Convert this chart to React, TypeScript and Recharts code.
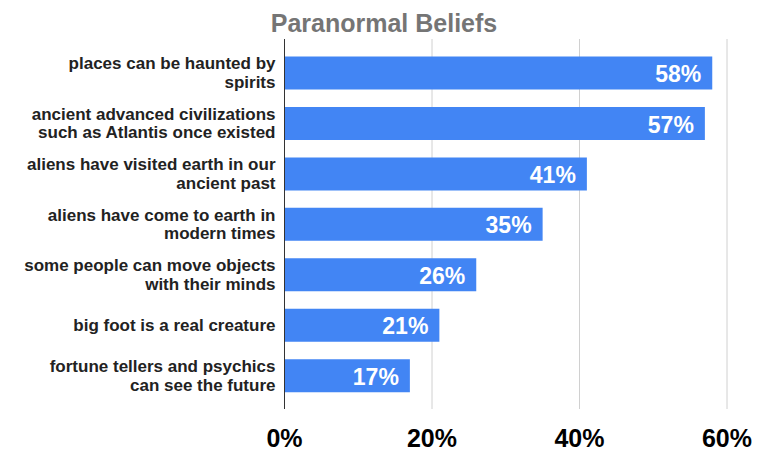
import React from "react";
import { BarChart, Bar, XAxis, YAxis, CartesianGrid, LabelList } from "recharts";

const categories = [
  "places can be haunted by\nspirits",
  "ancient advanced civilizations\nsuch as Atlantis once existed",
  "aliens have visited earth in our\nancient past",
  "aliens have come to earth in\nmodern times",
  "some people can move objects\nwith their minds",
  "big foot is a real creature",
  "fortune tellers and psychics\ncan see the future",
];
const values = [0.58, 0.57, 0.41, 0.35, 0.26, 0.21, 0.17];
const xTicks = [0, 0.2, 0.4, 0.6];
const title = "Paranormal Beliefs";

const data = categories.map((c, i) => ({ name: c, value: values[i] }));

const FONT = "'Liberation Sans', Arial, sans-serif";

const YTick = (props: any) => {
  const { x, y, payload } = props;
  const lines = String(payload.value).split("\n");
  const lh = 18.5;
  const start = -((lines.length - 1) * lh) / 2;
  return (
    <text x={x - 9} y={y} textAnchor="end" fontFamily={FONT} fontWeight="bold" fontSize={17} fill="#222">
      {lines.map((l, i) => (
        <tspan key={i} x={x - 9} y={y + start + i * lh} dominantBaseline="central">
          {l}
        </tspan>
      ))}
    </text>
  );
};

const XTick = (props: any) => {
  const { x, y, payload } = props;
  return (
    <text x={x} y={y + 29} textAnchor="middle" dominantBaseline="central" fontFamily={FONT} fontWeight="bold" fontSize={25} fill="#000">
      {Math.round(payload.value * 100) + "%"}
    </text>
  );
};

const ValueLabel = (props: any) => {
  const { x, y, width, height, value } = props;
  return (
    <text x={x + width - 11} y={y + height / 2 + 1} textAnchor="end" dominantBaseline="central" fontFamily={FONT} fontWeight="bold" fontSize={23} fill="#fff">
      {Math.round(value * 100) + "%"}
    </text>
  );
};

export default function App() {
  return (
    <div style={{ position: "absolute", left: 0, top: 0, width: 768, height: 461, background: "#fff" }}>
      <div
        style={{
          position: "absolute",
          left: 0,
          width: 768,
          top: 8,
          textAlign: "center",
          fontFamily: FONT,
          fontWeight: "bold",
          fontSize: 25,
          lineHeight: "30px",
          color: "#757575",
        }}
      >
        {title}
      </div>
      <BarChart
        width={768}
        height={461}
        data={data}
        layout="vertical"
        margin={{ top: 39, right: 41, bottom: 0, left: 0 }}
        barCategoryGap="17%"
      >
        <CartesianGrid horizontal={false} vertical={true} stroke="#d0d0d0" />
        <XAxis
          type="number"
          domain={[0, 0.6]}
          ticks={xTicks}
          axisLine={false}
          tickLine={false}
          tickSize={0}
          tickMargin={0}
          height={52}
          tick={<XTick />}
          interval={0}
        />
        <YAxis
          type="category"
          dataKey="name"
          width={284.5}
          axisLine={{ stroke: "#333" }}
          tickLine={false}
          tickSize={0}
          tickMargin={0}
          tick={<YTick />}
          interval={0}
          padding={{ top: 9, bottom: 8 }}
        />
        <Bar dataKey="value" fill="#4285F4" isAnimationActive={false}>
          <LabelList dataKey="value" content={<ValueLabel />} />
        </Bar>
      </BarChart>
    </div>
  );
}
